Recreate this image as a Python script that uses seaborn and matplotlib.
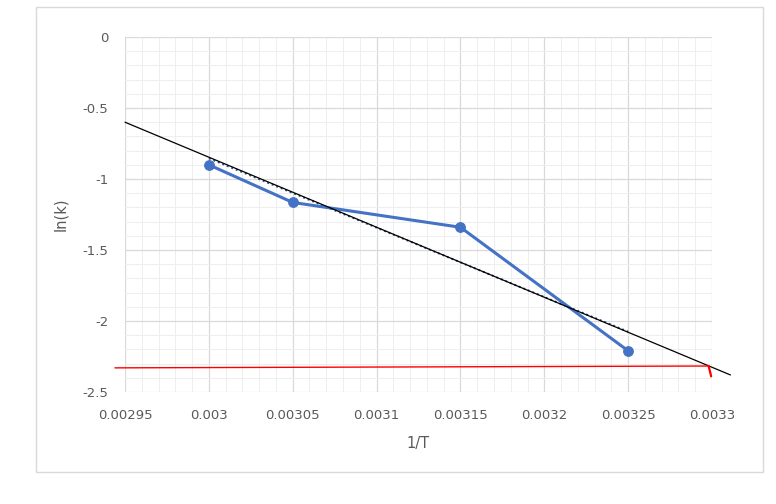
import matplotlib
matplotlib.use("Agg")
import matplotlib.pyplot as plt
import seaborn as sns
import numpy as np
import pandas as pd
from matplotlib.ticker import MultipleLocator
from matplotlib.patches import Rectangle

inv_T = [0.00300, 0.00305, 0.00315, 0.00325]
ln_k = [-0.90, -1.165, -1.34, -2.21]
black_x = [0.00295, 0.003311]
black_y = [-0.60, -2.38]
red_h_x = [0.002944, 0.003298]
red_h_y = [-2.33, -2.317]
red_v_x = [0.003298, 0.0032995]
red_v_y = [-2.317, -2.39]
xticks = [0.00295, 0.003, 0.00305, 0.0031, 0.00315, 0.0032, 0.00325, 0.0033]
xtick_labels = ["0.00295", "0.003", "0.00305", "0.0031", "0.00315", "0.0032", "0.00325", "0.0033"]
yticks = [0, -0.5, -1, -1.5, -2, -2.5]
ytick_labels = ["0", "-0.5", "-1", "-1.5", "-2", "-2.5"]

sns.set_style("white")
plt.rcParams['font.family'] = ['DejaVu Sans']
fig = plt.figure(figsize=(7.76, 5.04), dpi=100)
fig.patches.append(Rectangle((36/776, 1-472/504), 727/776, 465/504, transform=fig.transFigure,
                             fill=False, edgecolor="#d9d9d9", lw=1))
ax = fig.add_axes([125/776, 1-392/504, 587/776, 355/504])
df = pd.DataFrame({"x": inv_T, "y": ln_k})

ax.set_xlim(0.00295, 0.0033)
ax.set_ylim(-2.5, 0)
ax.set_xticks(xticks)
ax.set_xticklabels(xtick_labels)
ax.set_yticks(yticks)
ax.set_yticklabels(ytick_labels)
ax.xaxis.set_minor_locator(MultipleLocator(0.00001))
ax.yaxis.set_minor_locator(MultipleLocator(0.1))
ax.grid(which="minor", color="#eeeeee", lw=0.7)
ax.grid(which="major", color="#d9d9d9", lw=0.9)
ax.set_axisbelow(True)
for s in ax.spines.values():
    s.set_visible(False)
ax.tick_params(which="both", length=0, colors="#595959", labelsize=9.5)
ax.tick_params(axis="x", pad=12)
ax.tick_params(axis="y", pad=12)

sns.lineplot(data=df, x="x", y="y", ax=ax, color="#4472c4", lw=2.2, marker="o",
             markersize=7, markeredgecolor="#4472c4", zorder=4)
coef = np.polyfit(inv_T, ln_k, 1)
fx = np.array([inv_T[0], inv_T[-1]])
ax.plot(fx, np.polyval(coef, fx), color="#2f4f7f", lw=1.4, ls=(0, (1, 1.5)), zorder=3)
ax.plot(black_x, black_y, color="black", lw=0.9, clip_on=False, zorder=5)
ax.plot(red_h_x, red_h_y, color="red", lw=1, clip_on=False, zorder=5)
ax.plot(red_v_x, red_v_y, color="red", lw=1.6, clip_on=False, zorder=5)

ax.set_xlabel("1/T", color="#595959", fontsize=10.5, labelpad=10)
ax.set_ylabel("ln(k)", color="#595959", fontsize=10.5, labelpad=10)
fig.savefig("out.png", dpi=100)
